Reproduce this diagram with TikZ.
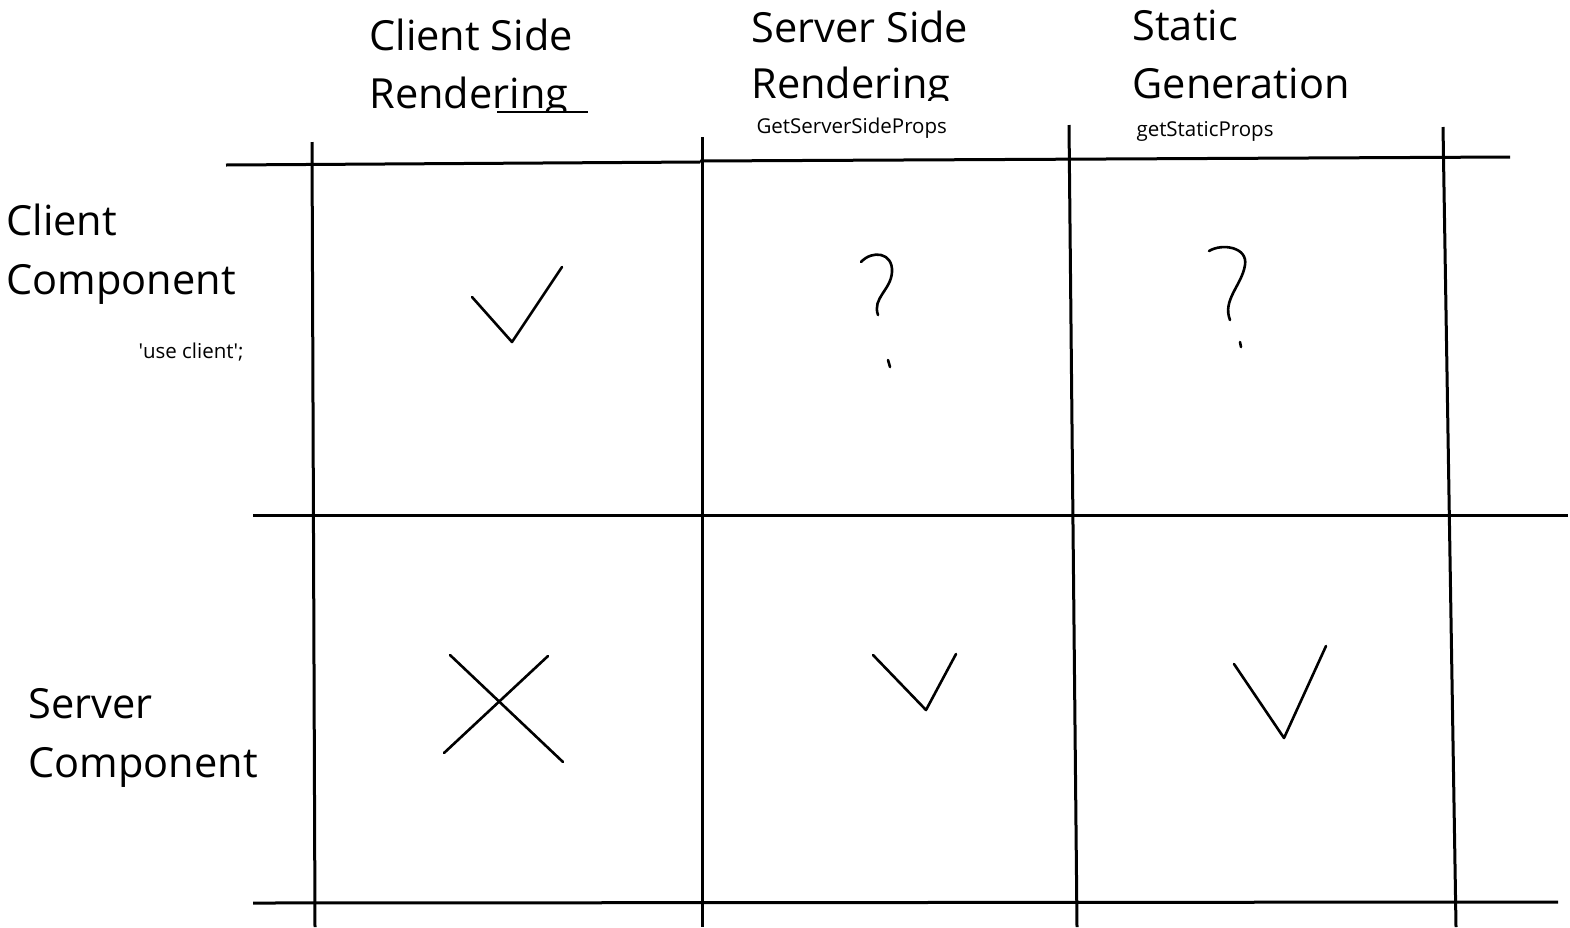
\documentclass[tikz,border=0pt]{standalone}
\usepackage{fontspec}
\setmainfont{Open Sans}
\begin{document}
\begin{tikzpicture}[x=1pt,y=-1pt,line width=3pt,
 big/.style={anchor=base west,inner sep=0pt,font=\fontsize{41.5}{44}\selectfont},
 small/.style={anchor=base west,inner sep=0pt,font=\fontsize{20.5}{22}\selectfont},
 pen/.style={line width=2.6pt,line join=round,line cap=round}]
\useasboundingbox[fill=white] (0,0) rectangle (1570,927);
% grid
\draw (226,165) -- (700,162);
\draw (700,161) -- (1510,157);
\draw (253,515) -- (1568,515);
\draw (253,903) -- (1558,902);
\draw (312,142) -- (315,927);
\draw (702,137) -- (702,927);
\draw (1069,125) -- (1077,927);
\draw (1443,127) -- (1456,927);
% headers
\node[big] (h1a) at (368,50) {Client Side};
\begin{scope}
\clip (300,60) rectangle (700,112);
\node[big] (h1b) at (368,108) {Rendering};
\end{scope}
\draw[line width=1.5pt] (497,112) -- (588,112);
\node[big] (h2a) at (750,42) {Server Side};
\begin{scope}
\clip (700,50) rectangle (1060,100);
\node[big] (h2b) at (750,98) {Rendering};
\end{scope}
\node[big] (h3a) at (1131,40) {Static};
\node[big] (h3b) at (1131,98) {Generation};
\node[small] (p1) at (755,133) {GetServerSideProps};
\node[small] (p2) at (1135,136) {getStaticProps};
% row labels
\node[big] (r1a) at (5,235) {Client};
\node[big] (r1b) at (5,294) {Component};
\node[small] (uc) at (137,358) {\textquotesingle use client\textquotesingle;};
\node[big] (r2a) at (27,718) {Server};
\node[big] (r2b) at (27,777) {Component};
% marks
\draw[pen] (472,297) -- (512,342) -- (562,267);
\draw[pen] (861,262) .. controls (872,250) and (893,252) .. (892,272) .. controls (891,290) and (872,298) .. (878,315);
\draw[pen] (888,360) -- (890,367);
\draw[pen] (1209,251) .. controls (1222,243) and (1248,247) .. (1245,265) .. controls (1242,285) and (1222,300) .. (1230,320);
\draw[pen] (1240,342) -- (1241,347);
\draw[pen] (450,655) -- (563,762);
\draw[pen] (548,656) -- (444,753);
\draw[pen] (873,655) -- (926,710) -- (956,654);
\draw[pen] (1234,664) -- (1284,738) -- (1326,646);
\end{tikzpicture}
\end{document}
